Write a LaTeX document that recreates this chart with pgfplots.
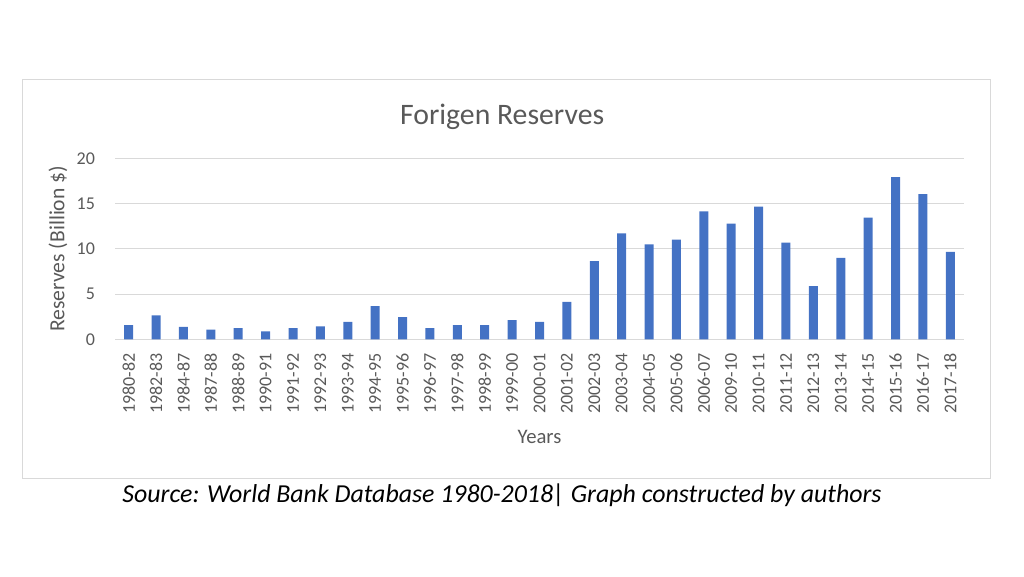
\documentclass[border=0pt]{standalone}
\usepackage{pgfplots}
\pgfplotsset{compat=1.18}
\usepackage{fontspec}
\setmainfont{Carlito}
\definecolor{barblue}{HTML}{4472C4}
\definecolor{gridgray}{HTML}{D9D9D9}
\definecolor{txtgray}{HTML}{595959}
\begin{document}
\begin{tikzpicture}
\path (0,0) rectangle (768pt,432pt);
\draw[gridgray, line width=0.75pt] (16.5pt,73.5pt) rectangle (742.5pt,372pt);
\begin{axis}[
  at={(86.25pt,177.5pt)}, anchor=south west,
  scale only axis, width=636.75pt, height=135.75pt,
  xmin=-0.5, xmax=30.5, ymin=0, ymax=20,
  ytick={0,5,10,15,20},
  xtick=data,
  xticklabels={1980-82,1982-83,1984-87,1987-88,1988-89,1990-91,1991-92,1992-93,1993-94,1994-95,1995-96,1996-97,1997-98,1998-99,1999-00,2000-01,2001-02,2002-03,2003-04,2004-05,2005-06,2006-07,2009-10,2010-11,2011-12,2012-13,2013-14,2014-15,2015-16,2016-17,2017-18},
  /pgf/number format/assume math mode=true,
  axis line style={draw=none},
  major tick length=0pt,
  ymajorgrids, major grid style={gridgray, line width=0.75pt},
  tick label style={font=\fontsize{13.5}{16}\selectfont, text=txtgray},
  xticklabel style={rotate=90, anchor=east},
  xticklabel shift=7pt,
  yticklabel shift=11.5pt,
  xlabel={Years}, ylabel={Reserves (Billion \$)},
  label style={text=txtgray},
  xlabel style={at={(axis description cs:0.5,-0.54)}, anchor=center, font=\fontsize{15.5}{18}\selectfont},
  ylabel style={at={(axis description cs:-0.0671,0.5)}, anchor=center, font=\fontsize{16.2}{19}\selectfont},
  title={Forigen Reserves},
  title style={at={(axis description cs:0.456,1.184)}, anchor=center, font=\fontsize{22.3}{26}\selectfont, text=txtgray},
]
\addplot[ybar, bar width=6.75pt, fill=barblue, draw=none] coordinates {
(0,1.58) (1,2.65) (2,1.39) (3,1.06) (4,1.25) (5,0.88) (6,1.25) (7,1.43)
(8,1.94) (9,3.67) (10,2.46) (11,1.25) (12,1.58) (13,1.58) (14,2.13) (15,1.94)
(16,4.15) (17,8.63) (18,11.72) (19,10.50) (20,11.03) (21,14.15) (22,12.79)
(23,14.66) (24,10.69) (25,5.88) (26,9.00) (27,13.45) (28,17.93) (29,16.05) (30,9.66)
};
\end{axis}
\node[font=\fontsize{19.4}{23}\selectfont\itshape] at (376.5pt,60.5pt) {Source: World Bank Database 1980-2018| Graph constructed by authors};
\end{tikzpicture}
\end{document}
